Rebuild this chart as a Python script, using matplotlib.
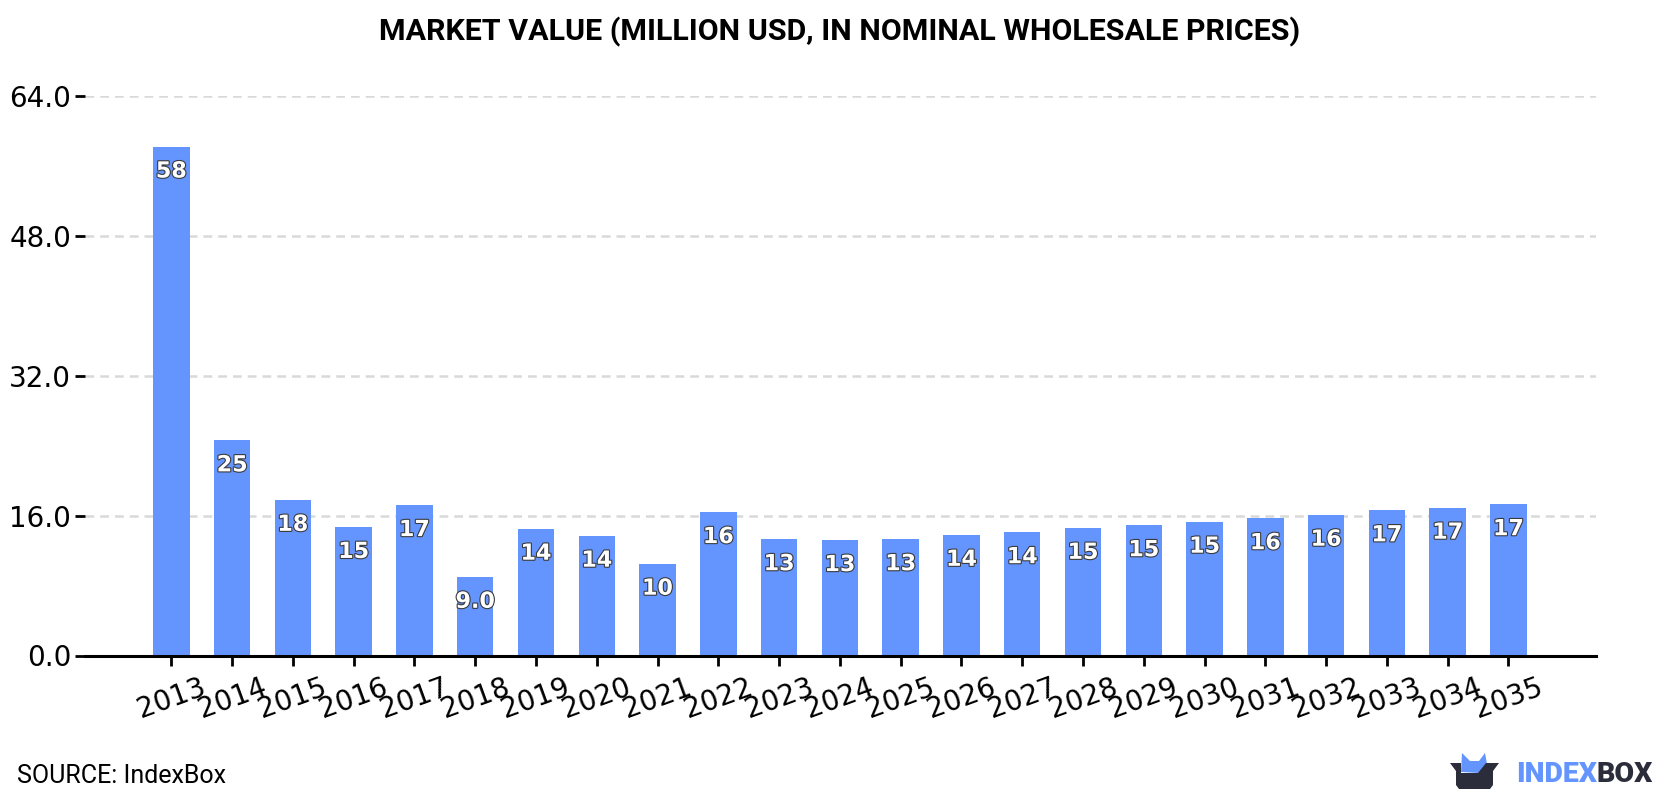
import matplotlib
matplotlib.use('Agg')
import matplotlib.pyplot as plt
import matplotlib.patheffects as pe
from matplotlib.patches import Polygon

years = [2013, 2014, 2015, 2016, 2017, 2018, 2019, 2020, 2021, 2022, 2023, 2024,
         2025, 2026, 2027, 2028, 2029, 2030, 2031, 2032, 2033, 2034, 2035]
values = [58.2, 24.6, 17.8, 14.7, 17.2, 9.0, 14.5, 13.7, 10.5, 16.4, 13.3, 13.2,
          13.3, 13.8, 14.1, 14.6, 14.9, 15.3, 15.7, 16.1, 16.6, 16.9, 17.3]
y_ticks = [0, 16, 32, 48, 64]

BLUE = '#6495ff'
DARK = '#2b2d3a'
W, H = 1680, 800


def value_label(v):
    return '{:.1f}'.format(v) if v < 10 else '{:.0f}'.format(v)


fig = plt.figure(figsize=(W / 100, H / 100), dpi=100)
ax = fig.add_axes([85 / W, 1 - 655.5 / H, (1596 - 85) / W, (655.5 - 95.8) / H])

pos = list(range(len(years)))
ax.bar(pos, values, width=0.6, color=BLUE, zorder=3)
ax.set_xlim(-1.42, 23.44)
ax.set_ylim(0, 64)

ax.set_yticks(y_ticks)
ax.set_yticklabels(['{:.1f}'.format(t) for t in y_ticks])
ax.set_xticks(pos)
ax.set_xticklabels(years, rotation=20)
ax.tick_params(axis='both', labelsize=20, length=7, width=2, color='black')
ax.tick_params(axis='x', pad=6)
ax.tick_params(axis='y', pad=3)
ax.grid(axis='y', color='#d9d9d9', linestyle=(0, (3.5, 2.4)), linewidth=1.8, zorder=1)
for side in ['top', 'right', 'left']:
    ax.spines[side].set_visible(False)
ax.spines['bottom'].set_linewidth(2.2)
ax.spines['bottom'].set_zorder(5)

for x, v in zip(pos, values):
    ax.annotate(value_label(v), (x, v), xytext=(0, -18), textcoords='offset points',
                ha='center', va='center', fontsize=16, fontweight='bold',
                family='DejaVu Sans', color='white', zorder=4,
                path_effects=[pe.withStroke(linewidth=1.6, foreground='#3a3a3a')])

fig.text(840 / W, 1 - 32 / H, 'MARKET VALUE (MILLION USD, IN NOMINAL WHOLESALE PRICES)',
         ha='center', va='center', family='Roboto', fontweight='bold', fontsize=21.9, color='black')
fig.text(17 / W, 1 - 776 / H, 'SOURCE: IndexBox', ha='left', va='center',
         family='Roboto', fontsize=18, color='black')

# logo, laid out in pixel coordinates
logo = fig.add_axes([0, 0, 1, 1], zorder=10)
logo.set_xlim(0, W)
logo.set_ylim(H, 0)
logo.axis('off')
logo.patch.set_alpha(0)
logo.add_patch(Polygon([(1461, 772), (1462, 753), (1470, 761), (1479, 761), (1485, 753),
                        (1487, 764), (1479, 773)], closed=True, color=BLUE, lw=0))
logo.add_patch(Polygon([(1450, 763), (1461, 763), (1461, 773), (1478, 773), (1486, 763),
                        (1499, 763), (1493, 771), (1493, 785), (1490, 789), (1459, 789),
                        (1456, 785), (1456, 771)], closed=True, color=DARK, lw=0))
logo.text(1516, 774, 'INDEX', ha='left', va='center', family='Roboto', fontweight=900,
          fontsize=20.5, color=BLUE)
logo.text(1597, 774, 'BOX', ha='left', va='center', family='Roboto', fontweight=900,
          fontsize=20.5, color=DARK)

fig.savefig('out.png', dpi=100)
